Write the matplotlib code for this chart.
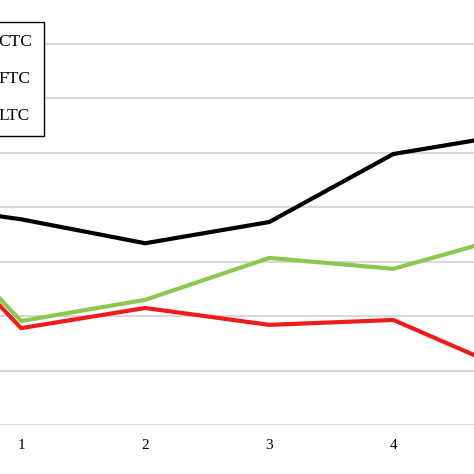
import matplotlib
matplotlib.use("Agg")
import matplotlib.pyplot as plt

x = [0, 1, 2, 3, 4, 5]
ctc = [4.10, 3.78, 3.34, 3.73, 4.98, 5.36]
ftc = [4.19, 1.78, 2.15, 1.84, 1.93, 0.94]
ltc = [4.32, 1.91, 2.30, 3.07, 2.87, 3.51]
xticks = [1, 2, 3, 4]

plt.rcParams['font.family'] = ['Liberation Serif', 'DejaVu Serif']
fig = plt.figure(figsize=(4.74, 4.74), dpi=100)
ax = fig.add_axes([0, 0.1034, 1, 0.8966])
ax.plot(x, ctc, color='black', lw=3, label='CTC')
ax.plot(x, ftc, color='#ee1c1c', lw=3, label='FTC')
ax.plot(x, ltc, color='#8cc850', lw=3, label='LTC')
ax.set_xlim(0.83, 4.65)
ax.set_ylim(0, 7.81)
ax.set_yticks(range(8))
ax.set_xticks(xticks)
ax.set_xticklabels([str(t) for t in xticks], fontsize=11)
ax.tick_params(length=0, labelleft=False, pad=10)
ax.grid(axis='y', color='#d9d9d9', lw=1.5)
ax.set_axisbelow(True)
for s in ax.spines.values():
    s.set_visible(False)
leg = fig.legend(loc='upper right', bbox_to_anchor=(0.093, 0.954), fontsize=12.5,
                 frameon=True, fancybox=False, edgecolor='black', framealpha=1,
                 handlelength=1.5, borderpad=0.7, labelspacing=1.2, borderaxespad=0)
leg.get_frame().set_linewidth(1)
fig.savefig('out.png', dpi=100)
